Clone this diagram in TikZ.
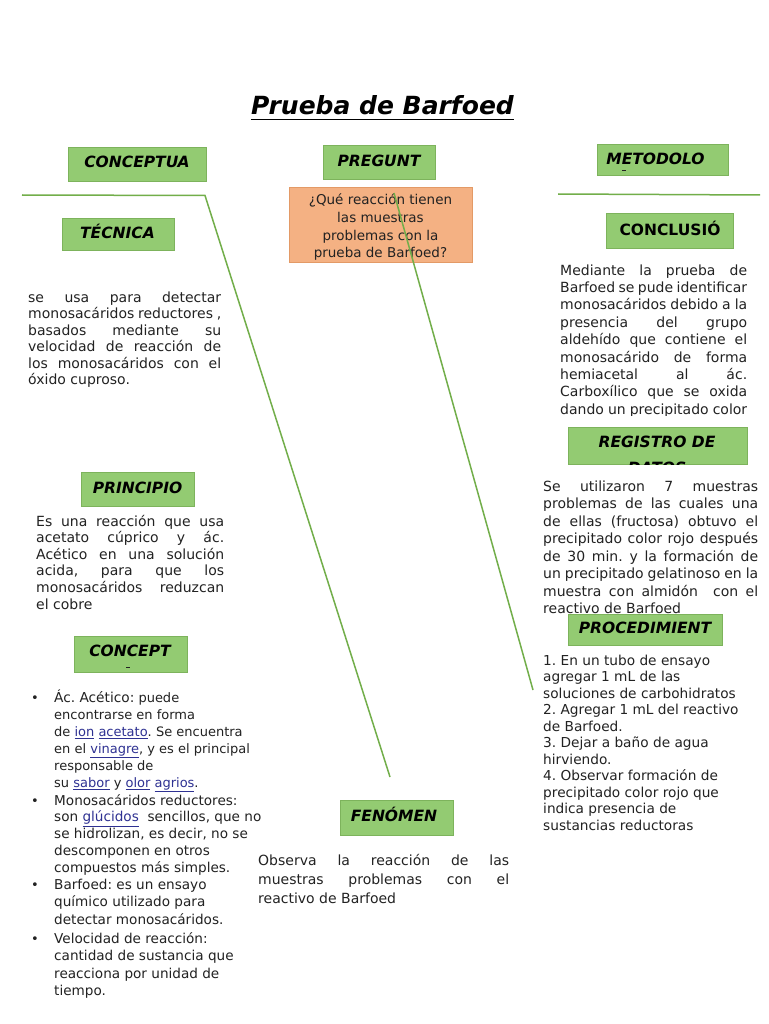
\documentclass[tikz,border=0pt]{standalone}
\usepackage{fontspec}
\setmainfont{DejaVu Sans}
\frenchspacing
\definecolor{gfill}{HTML}{93CB72}
\definecolor{gdraw}{HTML}{7DB35C}
\definecolor{ofill}{HTML}{F4B183}
\definecolor{odraw}{HTML}{E39A66}
\definecolor{gline}{HTML}{72AE4A}
\definecolor{txt}{HTML}{222222}
\definecolor{lnk}{HTML}{2E3192}
\newcommand\jl[1]{\makebox[\linewidth][s]{#1}}
\newcommand\lk[1]{\textcolor{lnk}{\underline{#1}}}
\tikzset{
  gbox/.style={draw=gdraw, fill=gfill, line width=0.7pt, inner sep=0pt},
  glbl/.style={inner sep=0pt, anchor=base, text=black,
    font=\fontsize{15.5}{18}\selectfont\bfseries\itshape},
  obox/.style={draw=odraw, fill=ofill, line width=0.7pt, inner sep=0pt},
  body/.style={inner sep=0pt, anchor=base west, text=txt},
  conn/.style={draw=gline, line width=1.5pt},
}
\begin{document}
\begin{tikzpicture}[x=1pt,y=-1pt]
\useasboundingbox (0,0) rectangle (768,1024);
\fill[white] (0,0) rectangle (768,1024);

% title
\node[inner sep=0pt, anchor=base, font=\fontsize{25}{30}\selectfont\bfseries\itshape] (title) at (382.5,115) {Prueba de Barfoed};
\draw[line width=1.4pt] ([yshift=-4.5pt]title.base west) -- ([yshift=-4.5pt]title.base east);

% header boxes
\node[gbox, minimum width=138pt, minimum height=34pt] (conceptua) at (137,164) {};
\node[glbl] (conceptualbl) at (137,167.7) {CONCEPTUA};
\node[gbox, minimum width=112pt, minimum height=34pt] (pregunt) at (379,162) {};
\node[glbl] (preguntlbl) at (379,166.7) {PREGUNT};
\node[gbox, minimum width=131pt, minimum height=31pt] (metodolo) at (662.5,159.5) {};
\node[glbl] (metlbl) at (655.5,164.7) {METODOLO};
\draw[txt, line width=0.7pt] (622,170.5) -- (626,170.5);

% orange question
\node[obox, minimum width=183pt, minimum height=75pt] (pregbox) at (380.5,224.5) {};
\begin{scope}
\clip (289,187) rectangle (472,261.5);
\node[inner sep=0pt, anchor=base, text=txt, font=\fontsize{13.5}{17.6}\selectfont] (pregtxt) at (380.5,205)
  {\parbox[t]{180pt}{\centering ¿Qué reacción tienen\\ las muestras\\ problemas con la\\ prueba de Barfoed?}};
\end{scope}

% technique
\node[gbox, minimum width=112pt, minimum height=32pt] (tecnica) at (118,234) {};
\node[glbl] (tecnicalbl) at (117.5,238.7) {TÉCNICA};
\node[body, font=\fontsize{14}{16.5}\selectfont] (tectxt) at (28,302)
  {\parbox[t]{193pt}{\jl{se usa para detectar}\\ \jl{monosacáridos reductores ,}\\ \jl{basados mediante su}\\ \jl{velocidad de reacción de}\\ \jl{los monosacáridos con el}\\ óxido cuproso.}};

% conclusion
\node[gbox, minimum width=127pt, minimum height=35pt] (conclu) at (669.5,230.5) {};
\node[glbl, font=\fontsize{15.5}{18}\selectfont\bfseries] (conclulbl) at (670,235.7) {CONCLUSIÓ};
\begin{scope}
\clip (550,255) rectangle (760,415.5);
\node[body, font=\fontsize{14}{17.4}\selectfont] (contxt) at (560,275)
  {\parbox[t]{187pt}{\jl{Mediante la prueba de}\\ \jl{Barfoed se pude identificar}\\ \jl{monosacáridos debido a la}\\ \jl{presencia del grupo}\\ \jl{aldehído que contiene el}\\ \jl{monosacárido de forma}\\ \jl{hemiacetal al ác.}\\ \jl{Carboxílico que se oxida}\\ \jl{dando un precipitado color}}};
\end{scope}

% registro
\node[gbox, minimum width=179pt, minimum height=37pt] (registro) at (657.5,445.5) {};
\begin{scope}
\clip (568,427) rectangle (747,464);
\node[glbl] (reglbl) at (657,447.7) {REGISTRO DE};
\node[glbl] (reglbl2) at (657,473.5) {DATOS};
\end{scope}
\begin{scope}
\clip (535,470) rectangle (765,613.5);
\node[body, font=\fontsize{14}{17.5}\selectfont] (regtxt) at (543,491)
  {\parbox[t]{215pt}{\jl{Se utilizaron 7 muestras}\\ \jl{problemas de las cuales una}\\ \jl{de ellas (fructosa) obtuvo el}\\ \jl{precipitado color rojo después}\\ \jl{de 30 min. y la formación de}\\ \jl{un precipitado gelatinoso en la}\\ \jl{muestra con almidón \ con el}\\ reactivo de Barfoed}};
\end{scope}

% principio
\node[gbox, minimum width=113pt, minimum height=34pt] (principio) at (137.5,489) {};
\node[glbl] (principiolbl) at (137.5,493.7) {PRINCIPIO};
\node[body, font=\fontsize{14}{16.6}\selectfont] (printxt) at (36,526)
  {\parbox[t]{188pt}{\jl{Es una reacción que usa}\\ \jl{acetato cúprico y ác.}\\ \jl{Acético en una solución}\\ \jl{acida, para que los}\\ \jl{monosacáridos reduzcan}\\ el cobre}};

% concept
\node[gbox, minimum width=113pt, minimum height=36pt] (concept) at (130.5,654) {};
\node[glbl] (conlbl) at (130,656.7) {CONCEPT};
\draw[txt, line width=0.7pt] (126,667.5) -- (130,667.5);

\node[body, anchor=base, font=\fontsize{13}{15}\selectfont] (b1) at (35,702) {•};
\node[body, anchor=base, font=\fontsize{13}{15}\selectfont] (b2) at (35,805) {•};
\node[body, anchor=base, font=\fontsize{13}{15}\selectfont] (b3) at (35,889) {•};
\node[body, anchor=base, font=\fontsize{13}{15}\selectfont] (b4) at (35,943) {•};

\node[body, font=\fontsize{13}{17.1}\selectfont] (bt1) at (54,702)
  {\parbox[t]{210pt}{{\fontsize{13.7}{17.1}\selectfont Ác. Acético:} puede\\ encontrarse en forma\\ de \lk{ion} \lk{acetato}. Se encuentra\\ en el \lk{vinagre}, y es el principal\\ responsable de\\ su \lk{sabor} y \lk{olor} \lk{agrios}.}};
\node[body, font=\fontsize{13.6}{16.9}\selectfont] (bt2) at (54,805)
  {\parbox[t]{210pt}{Monosacáridos reductores:\\ son \lk{glúcidos} \ sencillos, que no\\ se hidrolizan, es decir, no se\\ descomponen en otros\\ compuestos más simples.}};
\node[body, font=\fontsize{13.6}{17.5}\selectfont] (bt3) at (54,889)
  {\parbox[t]{210pt}{Barfoed: es un ensayo\\ químico utilizado para\\ detectar monosacáridos.}};
\node[body, font=\fontsize{13.6}{17.6}\selectfont] (bt4) at (54,943)
  {\parbox[t]{210pt}{Velocidad de reacción:\\ cantidad de sustancia que\\ reacciona por unidad de\\ tiempo.}};

% procedimiento
\node[body, font=\fontsize{13.7}{16.5}\selectfont] (proctxt) at (543,665)
  {\parbox[t]{220pt}{1. En un tubo de ensayo\\ agregar 1 mL de las\\ soluciones de carbohidratos\\ 2. Agregar 1 mL del reactivo\\ de Barfoed.\\ 3. Dejar a baño de agua\\ hirviendo.\\ 4. Observar formación de\\ precipitado color rojo que\\ indica presencia de\\ sustancias reductoras}};
\node[gbox, minimum width=154pt, minimum height=31pt] (proced) at (645,629.5) {};
\node[glbl] (procedlbl) at (645,633.7) {PROCEDIMIENT};

% fenomeno
\node[gbox, minimum width=113pt, minimum height=35pt] (fenomen) at (396.5,817.5) {};
\node[glbl] (fenlbl) at (394,821.7) {FENÓMEN};
\node[body, font=\fontsize{14}{19}\selectfont] (fentxt) at (258,865)
  {\parbox[t]{251pt}{\jl{Observa la reacción de las}\\ \jl{muestras problemas con el}\\ reactivo de Barfoed}};

% connectors
\coordinate (la) at (22,195);
\coordinate (lb) at (205,195.5);
\coordinate (lc) at (390,777);
\coordinate (ra) at (558,194);
\coordinate (rb) at (760,195);
\coordinate (da) at (394,193);
\coordinate (db) at (533,690);
\draw[conn] (la) -- (lb) -- (lc);
\draw[conn] (ra) -- (rb);
\draw[conn] (da) -- (db);
\end{tikzpicture}
\end{document}
